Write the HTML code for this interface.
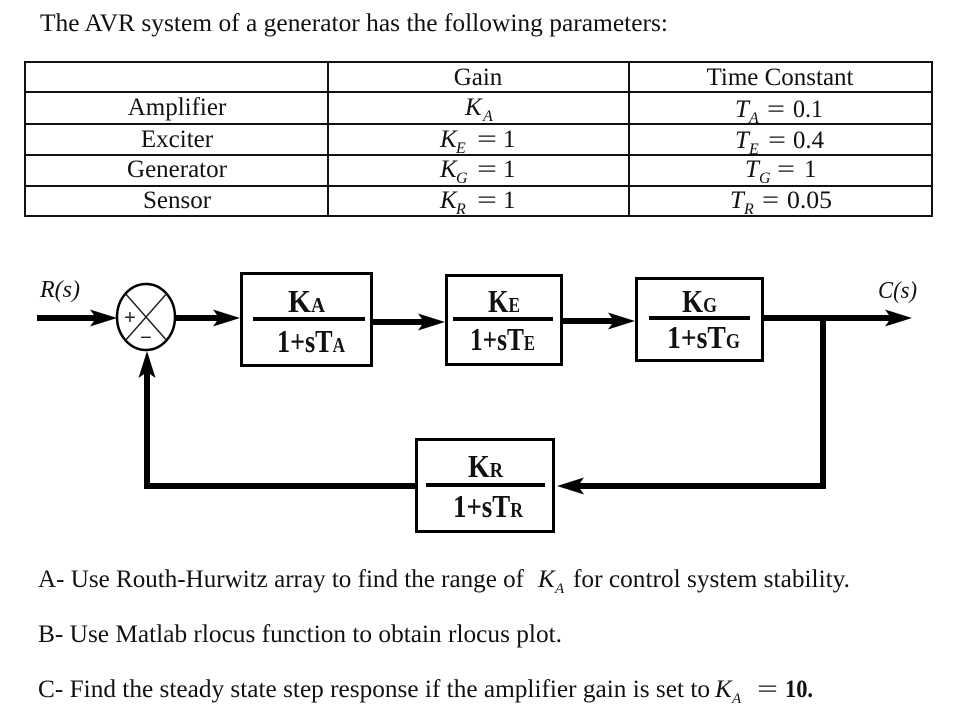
<!DOCTYPE html>
<html>
<head>
<meta charset="utf-8">
<style>
html,body{margin:0;padding:0;background:#fff;}
svg{display:block;}
.t{font-family:"Liberation Serif",serif;fill:#111;}
.i{font-style:italic;}
.b{font-weight:bold;}
</style>
</head>
<body>
<svg width="961" height="718" viewBox="0 0 961 718" xmlns="http://www.w3.org/2000/svg">
<rect x="0" y="0" width="961" height="718" fill="#fff"/>

<!-- Title -->
<text class="t" x="40" y="31" font-size="25" textLength="628" lengthAdjust="spacingAndGlyphs">The AVR system of a generator has the following parameters:</text>

<!-- Table -->
<g stroke="#111" stroke-width="2" fill="none">
  <rect x="25" y="62" width="907" height="154"/>
  <line x1="25" y1="92" x2="932" y2="92"/>
  <line x1="25" y1="124" x2="932" y2="124"/>
  <line x1="25" y1="155" x2="932" y2="155"/>
  <line x1="25" y1="186" x2="932" y2="186"/>
  <line x1="328" y1="62" x2="328" y2="216"/>
  <line x1="629" y1="62" x2="629" y2="216"/>
</g>
<g class="t" font-size="25">
  <text x="478" y="85" text-anchor="middle">Gain</text>
  <text x="780" y="85" text-anchor="middle">Time Constant</text>
  <text x="177" y="115" text-anchor="middle">Amplifier</text>
  <text x="177" y="147" text-anchor="middle">Exciter</text>
  <text x="177" y="177" text-anchor="middle">Generator</text>
  <text x="177" y="208" text-anchor="middle">Sensor</text>

  <!-- Gain column -->
  <text class="i" x="465" y="115">K</text><text class="i" x="483" y="121" font-size="16">A</text>

  <text class="i" x="440" y="147">K</text><text class="i" x="456" y="153" font-size="16">E</text>
  <text x="477" y="147" textLength="20" lengthAdjust="spacingAndGlyphs">=</text>
  <text x="503" y="147">1</text>

  <text class="i" x="440" y="177">K</text><text class="i" x="456" y="183" font-size="16">G</text>
  <text x="477" y="177" textLength="20" lengthAdjust="spacingAndGlyphs">=</text>
  <text x="503" y="177">1</text>

  <text class="i" x="440" y="208">K</text><text class="i" x="456" y="214" font-size="16">R</text>
  <text x="477" y="208" textLength="20" lengthAdjust="spacingAndGlyphs">=</text>
  <text x="503" y="208">1</text>

  <!-- Time constant column -->
  <text class="i" x="735" y="117">T</text><text class="i" x="749" y="123" font-size="16">A</text>
  <text x="767" y="117" textLength="18" lengthAdjust="spacingAndGlyphs">=</text>
  <text x="793" y="117" textLength="30" lengthAdjust="spacingAndGlyphs">0.1</text>

  <text class="i" x="735" y="148">T</text><text class="i" x="749" y="154" font-size="16">E</text>
  <text x="768" y="148" textLength="18" lengthAdjust="spacingAndGlyphs">=</text>
  <text x="793" y="148" textLength="31" lengthAdjust="spacingAndGlyphs">0.4</text>

  <text class="i" x="745" y="177">T</text><text class="i" x="759" y="183" font-size="16">G</text>
  <text x="777" y="177" textLength="18" lengthAdjust="spacingAndGlyphs">=</text>
  <text x="804" y="177">1</text>

  <text class="i" x="730" y="208">T</text><text class="i" x="744" y="214" font-size="16">R</text>
  <text x="762" y="208" textLength="17" lengthAdjust="spacingAndGlyphs">=</text>
  <text x="787" y="208" textLength="45" lengthAdjust="spacingAndGlyphs">0.05</text>
</g>

<!-- Block diagram -->
<text class="t i" x="40" y="297" font-size="24" fill="#333" textLength="40" lengthAdjust="spacingAndGlyphs">R(s)</text>
<text class="t i" x="878" y="298" font-size="24" fill="#333" textLength="39" lengthAdjust="spacingAndGlyphs">C(s)</text>

<g stroke="#000" stroke-width="6" fill="none" stroke-linejoin="miter" stroke-linecap="butt">
  <path d="M37 318 H98"/>
  <path d="M175 318 H221"/>
  <path d="M372 322 H426"/>
  <path d="M562 321 H616"/>
  <path d="M763 318 H893"/>
  <path d="M823 315 V486 H576"/>
  <path d="M416 486 H147 V370"/>
</g>
<g fill="#000">
  <path d="M117 318 L90 309.5 L96 318 L90 326.5 Z"/>
  <path d="M240 318 L213 309.5 L219 318 L213 326.5 Z"/>
  <path d="M445 322 L418 313.5 L424 322 L418 330.5 Z"/>
  <path d="M635 321 L608 312.5 L614 321 L608 329.5 Z"/>
  <path d="M912 318 L885 309.5 L891 318 L885 326.5 Z"/>
  <path d="M557 486 L584 477.5 L578 486 L584 494.5 Z"/>
  <path d="M147 351 L138.5 378 L147 372 L155.5 378 Z"/>
</g>

<ellipse cx="146" cy="317" rx="29" ry="33" fill="#fff" stroke="#000" stroke-width="2.5"/>
<g stroke="#222" stroke-width="1.5">
  <line x1="125.5" y1="293.7" x2="166.5" y2="340.3"/>
  <line x1="166.5" y1="293.7" x2="125.5" y2="340.3"/>
</g>
<text x="130" y="324" font-size="20" text-anchor="middle" font-family="Liberation Sans, sans-serif" fill="#222">+</text>
<text x="146" y="344" font-size="20" text-anchor="middle" font-family="Liberation Sans, sans-serif" fill="#222">−</text>

<g stroke="#000" stroke-width="3" fill="none">
  <rect x="241.5" y="273.5" width="130" height="92"/>
  <rect x="446.5" y="275.5" width="115" height="89"/>
  <rect x="636.5" y="278.5" width="126" height="82"/>
  <rect x="416.5" y="439.5" width="137" height="92"/>
</g>
<g stroke="#000" stroke-width="4">
  <line x1="253" y1="319" x2="365" y2="319"/>
  <line x1="453" y1="319" x2="553" y2="319"/>
  <line x1="649" y1="318" x2="750" y2="318"/>
  <line x1="426" y1="485" x2="545" y2="485"/>
</g>
<g class="t b" font-size="32" fill="#111">
  <text x="288" y="312" textLength="37" lengthAdjust="spacingAndGlyphs">K<tspan font-size="21">A</tspan></text>
  <text x="277" y="352" textLength="68" lengthAdjust="spacingAndGlyphs">1+sT<tspan font-size="21">A</tspan></text>

  <text x="488" y="312" textLength="32" lengthAdjust="spacingAndGlyphs">K<tspan font-size="21">E</tspan></text>
  <text x="470" y="350" textLength="65" lengthAdjust="spacingAndGlyphs">1+sT<tspan font-size="21">E</tspan></text>

  <text x="682" y="312" textLength="35" lengthAdjust="spacingAndGlyphs">K<tspan font-size="21">G</tspan></text>
  <text x="667" y="348" textLength="73" lengthAdjust="spacingAndGlyphs">1+sT<tspan font-size="21">G</tspan></text>

  <text x="468" y="477" textLength="35" lengthAdjust="spacingAndGlyphs">K<tspan font-size="21">R</tspan></text>
  <text x="453" y="517" textLength="70" lengthAdjust="spacingAndGlyphs">1+sT<tspan font-size="21">R</tspan></text>
</g>

<!-- Questions -->
<g class="t" font-size="25">
  <text x="38" y="587" textLength="486" lengthAdjust="spacingAndGlyphs">A- Use Routh-Hurwitz array to find the range of</text>
  <text class="i" x="538" y="587">K</text><text class="i" x="555" y="593" font-size="15">A</text>
  <text x="573" y="587" textLength="277" lengthAdjust="spacingAndGlyphs">for control system stability.</text>

  <text x="38" y="642" textLength="524" lengthAdjust="spacingAndGlyphs">B- Use Matlab rlocus function to obtain rlocus plot.</text>

  <text x="38" y="697" textLength="672" lengthAdjust="spacingAndGlyphs">C- Find the steady state step response if the amplifier gain is set to</text>
  <text class="i" x="715" y="697">K</text><text class="i" x="732" y="703" font-size="15">A</text>
  <text x="757" y="697" textLength="21" lengthAdjust="spacingAndGlyphs">=</text>
  <text class="b" x="785" y="697" textLength="28" lengthAdjust="spacingAndGlyphs">10.</text>
</g>
</svg>
</body>
</html>
